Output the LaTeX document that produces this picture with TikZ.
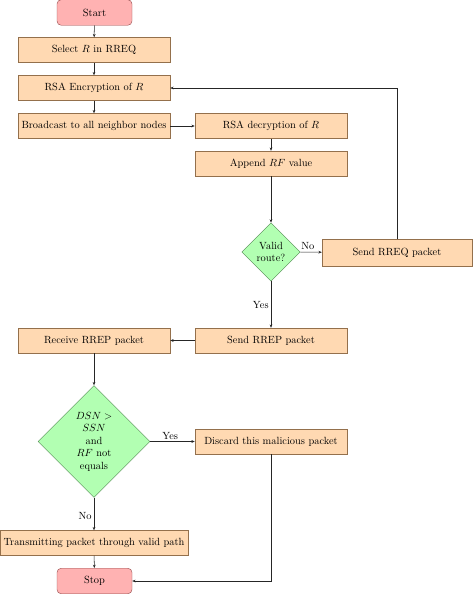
\documentclass[tikz,border=0pt]{standalone}
\usetikzlibrary{shapes.geometric,arrows.meta}
\begin{document}
\begin{tikzpicture}[x=0.96pt,y=-0.96pt,
  startstop/.style={rectangle, rounded corners=4pt, minimum width=72pt, minimum height=24.5pt, fill=red!30, draw=red!40!black!70, line width=0.4pt, inner sep=2pt},
  process/.style={rectangle, minimum width=146pt, minimum height=24pt, fill=orange!30, draw=orange!40!black!70, line width=0.4pt, inner sep=2pt},
  decision/.style={diamond, aspect=1, inner sep=0pt, fill=green!30, draw=green!30!black!70, line width=0.4pt, align=center},
  arrow/.style={draw=black!85, line width=0.5pt, -{Stealth[length=3.2pt,width=2.6pt]}},
  lbl/.style={font=\normalsize, inner sep=2pt}
]
\useasboundingbox (0,0) rectangle (474,594);

\node[startstop] (start) at (94.5,12.5) {Start};
\node[process] (select) at (94,50) {Select $R$ in RREQ};
\node[process] (rsaenc) at (94,88) {RSA Encryption of $R$};
\node[process] (bcast) at (94,126) {Broadcast to all neighbor nodes};
\node[process] (rsadec) at (271,126) {RSA decryption of $R$};
\node[process] (append) at (271,163.5) {Append $RF$ value};
\node[decision, minimum size=56pt] (valid) at (271,252) {Valid\\route?};
\node[process, minimum width=144pt, minimum height=25.5pt] (sendrreq) at (397,252.5) {Send RREQ packet};
\node[process] (sendrrep) at (271,340.5) {Send RREP packet};
\node[process] (recv) at (94,340.5) {Receive RREP packet};
\node[decision, minimum size=107.5pt] (dsn) at (94,441.5) {$DSN >$\\$SSN$\\and\\$RF$ not\\equals};
\node[process] (discard) at (271,441.5) {Discard this malicious packet};
\node[process, minimum width=180pt] (trans) at (94,543) {Transmitting packet through valid path};
\node[startstop] (stop) at (94.5,581) {Stop};

\draw[arrow] (start) -- (select);
\draw[arrow] (select) -- (rsaenc);
\draw[arrow] (rsaenc) -- (bcast);
\draw[arrow] (bcast) -- (rsadec);
\draw[arrow] (rsadec) -- (append);
\draw[arrow] (append) -- (valid);
\draw[arrow] (valid) -- node[lbl, above, pos=0.35] {No} (sendrreq);
\draw[arrow] (sendrreq.north) |- (rsaenc.east);
\draw[arrow] (valid) -- node[lbl, left] {Yes} (sendrrep);
\draw[arrow] (sendrrep) -- (recv);
\draw[arrow] (recv) -- (dsn);
\draw[arrow] (dsn) -- node[lbl, above, pos=0.45] {Yes} (discard);
\draw[arrow] (dsn) -- node[lbl, left, pos=0.55] {No} (trans);
\draw[arrow] (trans) -- (stop);
\draw[arrow] (discard.south) |- (stop.east);
\end{tikzpicture}
\end{document}
